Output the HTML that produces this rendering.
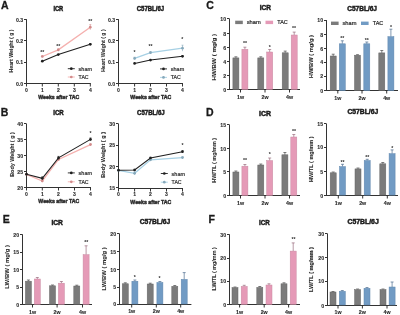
<!DOCTYPE html>
<html><head><meta charset="utf-8"><style>
html,body{margin:0;padding:0;background:#fff;width:400px;height:315px;overflow:hidden}
svg{display:block;filter:blur(0.4px)}
text{font-family:"Liberation Sans",sans-serif}
</style></head><body>
<svg width="400" height="315" viewBox="0 0 400 315">
<rect width="400" height="315" fill="#fff"/>
<text x="1.00" y="9.00" font-size="10.5" font-weight="bold" text-anchor="start" fill="#1a1a1a" stroke="#1a1a1a" stroke-width="0.3">A</text>
<line x1="26.50" y1="19.20" x2="26.50" y2="84.00" stroke="#333333" stroke-width="1"/>
<line x1="24.00" y1="19.50" x2="26.50" y2="19.50" stroke="#333333" stroke-width="1"/>
<text x="23.10" y="21.50" font-size="5.2" font-weight="bold" text-anchor="end" fill="#2b2b2b" stroke="#2b2b2b" stroke-width="0.1">0.3</text>
<line x1="24.00" y1="40.50" x2="26.50" y2="40.50" stroke="#333333" stroke-width="1"/>
<text x="23.10" y="42.90" font-size="5.2" font-weight="bold" text-anchor="end" fill="#2b2b2b" stroke="#2b2b2b" stroke-width="0.1">0.2</text>
<line x1="24.00" y1="62.50" x2="26.50" y2="62.50" stroke="#333333" stroke-width="1"/>
<text x="23.10" y="64.20" font-size="5.2" font-weight="bold" text-anchor="end" fill="#2b2b2b" stroke="#2b2b2b" stroke-width="0.1">0.1</text>
<line x1="24.00" y1="83.50" x2="26.50" y2="83.50" stroke="#333333" stroke-width="1"/>
<text x="23.10" y="85.60" font-size="5.2" font-weight="bold" text-anchor="end" fill="#2b2b2b" stroke="#2b2b2b" stroke-width="0.1">0.0</text>
<line x1="26.00" y1="83.50" x2="90.80" y2="83.50" stroke="#333333" stroke-width="1"/>
<line x1="26.50" y1="83.50" x2="26.50" y2="86.50" stroke="#333333" stroke-width="1"/>
<text x="26.50" y="91.80" font-size="5.1" font-weight="bold" text-anchor="middle" fill="#2b2b2b" stroke="#2b2b2b" stroke-width="0.1">0</text>
<line x1="42.30" y1="83.50" x2="42.30" y2="86.50" stroke="#333333" stroke-width="1"/>
<text x="42.30" y="91.80" font-size="5.1" font-weight="bold" text-anchor="middle" fill="#2b2b2b" stroke="#2b2b2b" stroke-width="0.1">1</text>
<line x1="58.30" y1="83.50" x2="58.30" y2="86.50" stroke="#333333" stroke-width="1"/>
<text x="58.30" y="91.80" font-size="5.1" font-weight="bold" text-anchor="middle" fill="#2b2b2b" stroke="#2b2b2b" stroke-width="0.1">2</text>
<line x1="74.30" y1="83.50" x2="74.30" y2="86.50" stroke="#333333" stroke-width="1"/>
<text x="74.30" y="91.80" font-size="5.1" font-weight="bold" text-anchor="middle" fill="#2b2b2b" stroke="#2b2b2b" stroke-width="0.1">3</text>
<line x1="90.30" y1="83.50" x2="90.30" y2="86.50" stroke="#333333" stroke-width="1"/>
<text x="90.30" y="91.80" font-size="5.1" font-weight="bold" text-anchor="middle" fill="#2b2b2b" stroke="#2b2b2b" stroke-width="0.1">4</text>
<polyline points="42.3,56.5 58.3,49.9 90.3,27.2" fill="none" stroke="#f5b0ae" stroke-width="1.3"/>
<line x1="42.30" y1="55.70" x2="42.30" y2="57.30" stroke="#d28b8b" stroke-width="0.6"/>
<line x1="41.30" y1="55.70" x2="43.30" y2="55.70" stroke="#d28b8b" stroke-width="0.6"/>
<circle cx="42.30" cy="56.50" r="1.35" fill="#d28b8b"/>
<line x1="58.30" y1="48.90" x2="58.30" y2="50.90" stroke="#d28b8b" stroke-width="0.6"/>
<line x1="57.30" y1="48.90" x2="59.30" y2="48.90" stroke="#d28b8b" stroke-width="0.6"/>
<circle cx="58.30" cy="49.90" r="1.35" fill="#d28b8b"/>
<line x1="90.30" y1="24.60" x2="90.30" y2="29.80" stroke="#d28b8b" stroke-width="0.6"/>
<line x1="89.30" y1="24.60" x2="91.30" y2="24.60" stroke="#d28b8b" stroke-width="0.6"/>
<circle cx="90.30" cy="27.20" r="1.35" fill="#d28b8b"/>
<polyline points="42.3,61.2 58.3,54.6 90.3,44.3" fill="none" stroke="#1f1f1f" stroke-width="1.05"/>
<circle cx="42.30" cy="61.20" r="1.35" fill="#1f1f1f"/>
<circle cx="58.30" cy="54.60" r="1.35" fill="#1f1f1f"/>
<line x1="90.30" y1="43.50" x2="90.30" y2="45.10" stroke="#1f1f1f" stroke-width="0.6"/>
<line x1="89.30" y1="43.50" x2="91.30" y2="43.50" stroke="#1f1f1f" stroke-width="0.6"/>
<circle cx="90.30" cy="44.30" r="1.35" fill="#1f1f1f"/>
<text x="42.30" y="54.10" font-size="5.2" font-weight="bold" text-anchor="middle" fill="#2b2b2b">**</text>
<text x="58.30" y="47.60" font-size="5.2" font-weight="bold" text-anchor="middle" fill="#2b2b2b">**</text>
<text x="90.30" y="22.80" font-size="5.2" font-weight="bold" text-anchor="middle" fill="#2b2b2b">**</text>
<line x1="67.80" y1="68.70" x2="74.80" y2="68.70" stroke="#1f1f1f" stroke-width="0.9"/>
<circle cx="71.30" cy="68.70" r="1.35" fill="#1f1f1f"/>
<line x1="67.80" y1="77.00" x2="74.80" y2="77.00" stroke="#f5b0ae" stroke-width="0.9"/>
<circle cx="71.30" cy="77.00" r="1.35" fill="#d28b8b"/>
<text x="78.60" y="70.70" font-size="5.6" font-weight="normal" text-anchor="start" fill="#2b2b2b" stroke="#2b2b2b" stroke-width="0.2" textLength="13.4" lengthAdjust="spacingAndGlyphs">sham</text>
<text x="78.60" y="79.00" font-size="5.6" font-weight="normal" text-anchor="start" fill="#2b2b2b" stroke="#2b2b2b" stroke-width="0.2" textLength="10.0" lengthAdjust="spacingAndGlyphs">TAC</text>
<text x="58.75" y="99.20" font-size="5.3" font-weight="bold" text-anchor="middle" fill="#2b2b2b" stroke="#2b2b2b" stroke-width="0.42" textLength="41" lengthAdjust="spacingAndGlyphs">Weeks after TAC</text>
<text x="13.10" y="51.00" font-size="5.2" font-weight="bold" text-anchor="middle" fill="#2b2b2b" stroke="#2b2b2b" stroke-width="0.08" textLength="43" lengthAdjust="spacingAndGlyphs" transform="rotate(-90 13.10 51.00)">Heart Weight ( g )</text>
<text x="58.35" y="11.00" font-size="6.5" font-weight="bold" text-anchor="middle" fill="#1a1a1a" stroke="#1a1a1a" stroke-width="0.45" textLength="9.8" lengthAdjust="spacingAndGlyphs">ICR</text>
<line x1="118.50" y1="19.20" x2="118.50" y2="84.00" stroke="#333333" stroke-width="1"/>
<line x1="116.00" y1="19.50" x2="118.50" y2="19.50" stroke="#333333" stroke-width="1"/>
<text x="115.10" y="21.50" font-size="5.2" font-weight="bold" text-anchor="end" fill="#2b2b2b" stroke="#2b2b2b" stroke-width="0.1">0.3</text>
<line x1="116.00" y1="40.50" x2="118.50" y2="40.50" stroke="#333333" stroke-width="1"/>
<text x="115.10" y="42.90" font-size="5.2" font-weight="bold" text-anchor="end" fill="#2b2b2b" stroke="#2b2b2b" stroke-width="0.1">0.2</text>
<line x1="116.00" y1="62.50" x2="118.50" y2="62.50" stroke="#333333" stroke-width="1"/>
<text x="115.10" y="64.20" font-size="5.2" font-weight="bold" text-anchor="end" fill="#2b2b2b" stroke="#2b2b2b" stroke-width="0.1">0.1</text>
<line x1="116.00" y1="83.50" x2="118.50" y2="83.50" stroke="#333333" stroke-width="1"/>
<text x="115.10" y="85.60" font-size="5.2" font-weight="bold" text-anchor="end" fill="#2b2b2b" stroke="#2b2b2b" stroke-width="0.1">0.0</text>
<line x1="118.00" y1="83.50" x2="183.00" y2="83.50" stroke="#333333" stroke-width="1"/>
<line x1="118.50" y1="83.50" x2="118.50" y2="86.50" stroke="#333333" stroke-width="1"/>
<text x="118.50" y="91.80" font-size="5.1" font-weight="bold" text-anchor="middle" fill="#2b2b2b" stroke="#2b2b2b" stroke-width="0.1">0</text>
<line x1="134.60" y1="83.50" x2="134.60" y2="86.50" stroke="#333333" stroke-width="1"/>
<text x="134.60" y="91.80" font-size="5.1" font-weight="bold" text-anchor="middle" fill="#2b2b2b" stroke="#2b2b2b" stroke-width="0.1">1</text>
<line x1="150.50" y1="83.50" x2="150.50" y2="86.50" stroke="#333333" stroke-width="1"/>
<text x="150.50" y="91.80" font-size="5.1" font-weight="bold" text-anchor="middle" fill="#2b2b2b" stroke="#2b2b2b" stroke-width="0.1">2</text>
<line x1="166.50" y1="83.50" x2="166.50" y2="86.50" stroke="#333333" stroke-width="1"/>
<text x="166.50" y="91.80" font-size="5.1" font-weight="bold" text-anchor="middle" fill="#2b2b2b" stroke="#2b2b2b" stroke-width="0.1">3</text>
<line x1="182.50" y1="83.50" x2="182.50" y2="86.50" stroke="#333333" stroke-width="1"/>
<text x="182.50" y="91.80" font-size="5.1" font-weight="bold" text-anchor="middle" fill="#2b2b2b" stroke="#2b2b2b" stroke-width="0.1">4</text>
<polyline points="134.6,58.4 150.5,52.7 182.5,48.2" fill="none" stroke="#a6d0e4" stroke-width="1.3"/>
<line x1="134.60" y1="57.20" x2="134.60" y2="59.60" stroke="#86a8ba" stroke-width="0.6"/>
<line x1="133.60" y1="57.20" x2="135.60" y2="57.20" stroke="#86a8ba" stroke-width="0.6"/>
<circle cx="134.60" cy="58.40" r="1.35" fill="#86a8ba"/>
<line x1="150.50" y1="51.50" x2="150.50" y2="53.90" stroke="#86a8ba" stroke-width="0.6"/>
<line x1="149.50" y1="51.50" x2="151.50" y2="51.50" stroke="#86a8ba" stroke-width="0.6"/>
<circle cx="150.50" cy="52.70" r="1.35" fill="#86a8ba"/>
<line x1="182.50" y1="45.20" x2="182.50" y2="51.20" stroke="#86a8ba" stroke-width="0.6"/>
<line x1="181.50" y1="45.20" x2="183.50" y2="45.20" stroke="#86a8ba" stroke-width="0.6"/>
<circle cx="182.50" cy="48.20" r="1.35" fill="#86a8ba"/>
<polyline points="134.6,63.4 150.5,60.1 182.5,56.3" fill="none" stroke="#1f1f1f" stroke-width="1.05"/>
<circle cx="134.60" cy="63.40" r="1.35" fill="#1f1f1f"/>
<circle cx="150.50" cy="60.10" r="1.35" fill="#1f1f1f"/>
<line x1="182.50" y1="55.50" x2="182.50" y2="57.10" stroke="#1f1f1f" stroke-width="0.6"/>
<line x1="181.50" y1="55.50" x2="183.50" y2="55.50" stroke="#1f1f1f" stroke-width="0.6"/>
<circle cx="182.50" cy="56.30" r="1.35" fill="#1f1f1f"/>
<text x="134.60" y="54.30" font-size="5.2" font-weight="bold" text-anchor="middle" fill="#2b2b2b">*</text>
<text x="150.50" y="48.40" font-size="5.2" font-weight="bold" text-anchor="middle" fill="#2b2b2b">**</text>
<text x="182.30" y="41.30" font-size="5.2" font-weight="bold" text-anchor="middle" fill="#2b2b2b">*</text>
<line x1="160.00" y1="68.90" x2="167.00" y2="68.90" stroke="#1f1f1f" stroke-width="0.9"/>
<circle cx="163.50" cy="68.90" r="1.35" fill="#1f1f1f"/>
<line x1="160.00" y1="77.40" x2="167.00" y2="77.40" stroke="#a6d0e4" stroke-width="0.9"/>
<circle cx="163.50" cy="77.40" r="1.35" fill="#86a8ba"/>
<text x="170.80" y="70.90" font-size="5.6" font-weight="normal" text-anchor="start" fill="#2b2b2b" stroke="#2b2b2b" stroke-width="0.2" textLength="13.4" lengthAdjust="spacingAndGlyphs">sham</text>
<text x="170.80" y="79.40" font-size="5.6" font-weight="normal" text-anchor="start" fill="#2b2b2b" stroke="#2b2b2b" stroke-width="0.2" textLength="10.0" lengthAdjust="spacingAndGlyphs">TAC</text>
<text x="150.85" y="99.20" font-size="5.3" font-weight="bold" text-anchor="middle" fill="#2b2b2b" stroke="#2b2b2b" stroke-width="0.42" textLength="41" lengthAdjust="spacingAndGlyphs">Weeks after TAC</text>
<text x="105.40" y="50.60" font-size="5.2" font-weight="bold" text-anchor="middle" fill="#2b2b2b" stroke="#2b2b2b" stroke-width="0.08" textLength="42.5" lengthAdjust="spacingAndGlyphs" transform="rotate(-90 105.40 50.60)">Heart Weight ( g )</text>
<text x="150.40" y="11.00" font-size="6.5" font-weight="bold" text-anchor="middle" fill="#1a1a1a" stroke="#1a1a1a" stroke-width="0.45" textLength="27.3" lengthAdjust="spacingAndGlyphs">C57BL/6J</text>
<text x="0.80" y="115.50" font-size="10.5" font-weight="bold" text-anchor="start" fill="#1a1a1a" stroke="#1a1a1a" stroke-width="0.3">B</text>
<line x1="26.50" y1="123.80" x2="26.50" y2="188.00" stroke="#333333" stroke-width="1"/>
<line x1="24.00" y1="123.50" x2="26.50" y2="123.50" stroke="#333333" stroke-width="1"/>
<text x="23.10" y="126.00" font-size="5.2" font-weight="bold" text-anchor="end" fill="#2b2b2b" stroke="#2b2b2b" stroke-width="0.1">40</text>
<line x1="24.00" y1="139.50" x2="26.50" y2="139.50" stroke="#333333" stroke-width="1"/>
<text x="23.10" y="141.90" font-size="5.2" font-weight="bold" text-anchor="end" fill="#2b2b2b" stroke="#2b2b2b" stroke-width="0.1">35</text>
<line x1="24.00" y1="155.50" x2="26.50" y2="155.50" stroke="#333333" stroke-width="1"/>
<text x="23.10" y="158.00" font-size="5.2" font-weight="bold" text-anchor="end" fill="#2b2b2b" stroke="#2b2b2b" stroke-width="0.1">30</text>
<line x1="24.00" y1="171.50" x2="26.50" y2="171.50" stroke="#333333" stroke-width="1"/>
<text x="23.10" y="173.90" font-size="5.2" font-weight="bold" text-anchor="end" fill="#2b2b2b" stroke="#2b2b2b" stroke-width="0.1">25</text>
<line x1="24.00" y1="187.50" x2="26.50" y2="187.50" stroke="#333333" stroke-width="1"/>
<text x="23.10" y="189.80" font-size="5.2" font-weight="bold" text-anchor="end" fill="#2b2b2b" stroke="#2b2b2b" stroke-width="0.1">20</text>
<line x1="26.00" y1="187.50" x2="91.00" y2="187.50" stroke="#333333" stroke-width="1"/>
<line x1="26.50" y1="187.50" x2="26.50" y2="190.50" stroke="#333333" stroke-width="1"/>
<text x="26.50" y="196.00" font-size="5.1" font-weight="bold" text-anchor="middle" fill="#2b2b2b" stroke="#2b2b2b" stroke-width="0.1">0</text>
<line x1="42.30" y1="187.50" x2="42.30" y2="190.50" stroke="#333333" stroke-width="1"/>
<text x="42.30" y="196.00" font-size="5.1" font-weight="bold" text-anchor="middle" fill="#2b2b2b" stroke="#2b2b2b" stroke-width="0.1">1</text>
<line x1="58.50" y1="187.50" x2="58.50" y2="190.50" stroke="#333333" stroke-width="1"/>
<text x="58.50" y="196.00" font-size="5.1" font-weight="bold" text-anchor="middle" fill="#2b2b2b" stroke="#2b2b2b" stroke-width="0.1">2</text>
<line x1="74.50" y1="187.50" x2="74.50" y2="190.50" stroke="#333333" stroke-width="1"/>
<text x="74.50" y="196.00" font-size="5.1" font-weight="bold" text-anchor="middle" fill="#2b2b2b" stroke="#2b2b2b" stroke-width="0.1">3</text>
<line x1="90.50" y1="187.50" x2="90.50" y2="190.50" stroke="#333333" stroke-width="1"/>
<text x="90.50" y="196.00" font-size="5.1" font-weight="bold" text-anchor="middle" fill="#2b2b2b" stroke="#2b2b2b" stroke-width="0.1">4</text>
<polyline points="26.5,174.3 42.3,181 58.5,159.4 90.5,144.6" fill="none" stroke="#f5b0ae" stroke-width="1.3"/>
<line x1="26.50" y1="173.70" x2="26.50" y2="174.90" stroke="#d28b8b" stroke-width="0.6"/>
<line x1="25.50" y1="173.70" x2="27.50" y2="173.70" stroke="#d28b8b" stroke-width="0.6"/>
<circle cx="26.50" cy="174.30" r="1.35" fill="#d28b8b"/>
<line x1="42.30" y1="179.80" x2="42.30" y2="182.20" stroke="#d28b8b" stroke-width="0.6"/>
<line x1="41.30" y1="179.80" x2="43.30" y2="179.80" stroke="#d28b8b" stroke-width="0.6"/>
<circle cx="42.30" cy="181.00" r="1.35" fill="#d28b8b"/>
<line x1="58.50" y1="158.40" x2="58.50" y2="160.40" stroke="#d28b8b" stroke-width="0.6"/>
<line x1="57.50" y1="158.40" x2="59.50" y2="158.40" stroke="#d28b8b" stroke-width="0.6"/>
<circle cx="58.50" cy="159.40" r="1.35" fill="#d28b8b"/>
<line x1="90.50" y1="143.60" x2="90.50" y2="145.60" stroke="#d28b8b" stroke-width="0.6"/>
<line x1="89.50" y1="143.60" x2="91.50" y2="143.60" stroke="#d28b8b" stroke-width="0.6"/>
<circle cx="90.50" cy="144.60" r="1.35" fill="#d28b8b"/>
<polyline points="26.5,174.3 42.3,178.3 58.5,157.9 90.5,139.4" fill="none" stroke="#1f1f1f" stroke-width="1.05"/>
<line x1="26.50" y1="173.50" x2="26.50" y2="175.10" stroke="#1f1f1f" stroke-width="0.6"/>
<line x1="25.50" y1="173.50" x2="27.50" y2="173.50" stroke="#1f1f1f" stroke-width="0.6"/>
<circle cx="26.50" cy="174.30" r="1.35" fill="#1f1f1f"/>
<line x1="42.30" y1="176.70" x2="42.30" y2="179.90" stroke="#1f1f1f" stroke-width="0.6"/>
<line x1="41.30" y1="176.70" x2="43.30" y2="176.70" stroke="#1f1f1f" stroke-width="0.6"/>
<circle cx="42.30" cy="178.30" r="1.35" fill="#1f1f1f"/>
<line x1="58.50" y1="156.40" x2="58.50" y2="159.40" stroke="#1f1f1f" stroke-width="0.6"/>
<line x1="57.50" y1="156.40" x2="59.50" y2="156.40" stroke="#1f1f1f" stroke-width="0.6"/>
<circle cx="58.50" cy="157.90" r="1.35" fill="#1f1f1f"/>
<line x1="90.50" y1="137.90" x2="90.50" y2="140.90" stroke="#1f1f1f" stroke-width="0.6"/>
<line x1="89.50" y1="137.90" x2="91.50" y2="137.90" stroke="#1f1f1f" stroke-width="0.6"/>
<circle cx="90.50" cy="139.40" r="1.35" fill="#1f1f1f"/>
<text x="90.50" y="134.80" font-size="5.2" font-weight="bold" text-anchor="middle" fill="#2b2b2b">*</text>
<line x1="67.80" y1="172.90" x2="74.80" y2="172.90" stroke="#1f1f1f" stroke-width="0.9"/>
<circle cx="71.30" cy="172.90" r="1.35" fill="#1f1f1f"/>
<line x1="67.80" y1="181.80" x2="74.80" y2="181.80" stroke="#f5b0ae" stroke-width="0.9"/>
<circle cx="71.30" cy="181.80" r="1.35" fill="#d28b8b"/>
<text x="78.60" y="174.90" font-size="5.6" font-weight="normal" text-anchor="start" fill="#2b2b2b" stroke="#2b2b2b" stroke-width="0.2" textLength="13.4" lengthAdjust="spacingAndGlyphs">sham</text>
<text x="78.60" y="183.80" font-size="5.6" font-weight="normal" text-anchor="start" fill="#2b2b2b" stroke="#2b2b2b" stroke-width="0.2" textLength="10.0" lengthAdjust="spacingAndGlyphs">TAC</text>
<text x="58.85" y="203.40" font-size="5.3" font-weight="bold" text-anchor="middle" fill="#2b2b2b" stroke="#2b2b2b" stroke-width="0.42" textLength="41" lengthAdjust="spacingAndGlyphs">Weeks after TAC</text>
<text x="13.60" y="154.50" font-size="5.2" font-weight="bold" text-anchor="middle" fill="#2b2b2b" stroke="#2b2b2b" stroke-width="0.08" textLength="44.7" lengthAdjust="spacingAndGlyphs" transform="rotate(-90 13.60 154.50)">Body Weight ( g )</text>
<text x="58.50" y="115.20" font-size="6.5" font-weight="bold" text-anchor="middle" fill="#1a1a1a" stroke="#1a1a1a" stroke-width="0.45" textLength="10.5" lengthAdjust="spacingAndGlyphs">ICR</text>
<line x1="118.50" y1="123.80" x2="118.50" y2="189.00" stroke="#333333" stroke-width="1"/>
<line x1="116.00" y1="123.50" x2="118.50" y2="123.50" stroke="#333333" stroke-width="1"/>
<text x="115.10" y="126.00" font-size="5.2" font-weight="bold" text-anchor="end" fill="#2b2b2b" stroke="#2b2b2b" stroke-width="0.1">30</text>
<line x1="116.00" y1="145.50" x2="118.50" y2="145.50" stroke="#333333" stroke-width="1"/>
<text x="115.10" y="147.20" font-size="5.2" font-weight="bold" text-anchor="end" fill="#2b2b2b" stroke="#2b2b2b" stroke-width="0.1">25</text>
<line x1="116.00" y1="166.50" x2="118.50" y2="166.50" stroke="#333333" stroke-width="1"/>
<text x="115.10" y="168.50" font-size="5.2" font-weight="bold" text-anchor="end" fill="#2b2b2b" stroke="#2b2b2b" stroke-width="0.1">20</text>
<line x1="116.00" y1="187.50" x2="118.50" y2="187.50" stroke="#333333" stroke-width="1"/>
<text x="115.10" y="189.80" font-size="5.2" font-weight="bold" text-anchor="end" fill="#2b2b2b" stroke="#2b2b2b" stroke-width="0.1">15</text>
<line x1="118.00" y1="188.50" x2="183.00" y2="188.50" stroke="#333333" stroke-width="1"/>
<line x1="118.50" y1="188.50" x2="118.50" y2="191.50" stroke="#333333" stroke-width="1"/>
<text x="118.50" y="196.40" font-size="5.1" font-weight="bold" text-anchor="middle" fill="#2b2b2b" stroke="#2b2b2b" stroke-width="0.1">0</text>
<line x1="134.60" y1="188.50" x2="134.60" y2="191.50" stroke="#333333" stroke-width="1"/>
<text x="134.60" y="196.40" font-size="5.1" font-weight="bold" text-anchor="middle" fill="#2b2b2b" stroke="#2b2b2b" stroke-width="0.1">1</text>
<line x1="150.50" y1="188.50" x2="150.50" y2="191.50" stroke="#333333" stroke-width="1"/>
<text x="150.50" y="196.40" font-size="5.1" font-weight="bold" text-anchor="middle" fill="#2b2b2b" stroke="#2b2b2b" stroke-width="0.1">2</text>
<line x1="166.50" y1="188.50" x2="166.50" y2="191.50" stroke="#333333" stroke-width="1"/>
<text x="166.50" y="196.40" font-size="5.1" font-weight="bold" text-anchor="middle" fill="#2b2b2b" stroke="#2b2b2b" stroke-width="0.1">3</text>
<line x1="182.50" y1="188.50" x2="182.50" y2="191.50" stroke="#333333" stroke-width="1"/>
<text x="182.50" y="196.40" font-size="5.1" font-weight="bold" text-anchor="middle" fill="#2b2b2b" stroke="#2b2b2b" stroke-width="0.1">4</text>
<polyline points="118.5,170.3 134.6,173.3 150.5,159.8 182.5,157.6" fill="none" stroke="#a6d0e4" stroke-width="1.3"/>
<line x1="118.50" y1="169.70" x2="118.50" y2="170.90" stroke="#86a8ba" stroke-width="0.6"/>
<line x1="117.50" y1="169.70" x2="119.50" y2="169.70" stroke="#86a8ba" stroke-width="0.6"/>
<circle cx="118.50" cy="170.30" r="1.35" fill="#86a8ba"/>
<line x1="134.60" y1="171.80" x2="134.60" y2="174.80" stroke="#86a8ba" stroke-width="0.6"/>
<line x1="133.60" y1="171.80" x2="135.60" y2="171.80" stroke="#86a8ba" stroke-width="0.6"/>
<circle cx="134.60" cy="173.30" r="1.35" fill="#86a8ba"/>
<line x1="150.50" y1="158.80" x2="150.50" y2="160.80" stroke="#86a8ba" stroke-width="0.6"/>
<line x1="149.50" y1="158.80" x2="151.50" y2="158.80" stroke="#86a8ba" stroke-width="0.6"/>
<circle cx="150.50" cy="159.80" r="1.35" fill="#86a8ba"/>
<line x1="182.50" y1="156.60" x2="182.50" y2="158.60" stroke="#86a8ba" stroke-width="0.6"/>
<line x1="181.50" y1="156.60" x2="183.50" y2="156.60" stroke="#86a8ba" stroke-width="0.6"/>
<circle cx="182.50" cy="157.60" r="1.35" fill="#86a8ba"/>
<polyline points="118.5,170.3 134.6,170 150.5,158 182.5,151.7" fill="none" stroke="#1f1f1f" stroke-width="1.05"/>
<line x1="118.50" y1="169.70" x2="118.50" y2="170.90" stroke="#1f1f1f" stroke-width="0.6"/>
<line x1="117.50" y1="169.70" x2="119.50" y2="169.70" stroke="#1f1f1f" stroke-width="0.6"/>
<circle cx="118.50" cy="170.30" r="1.35" fill="#1f1f1f"/>
<line x1="134.60" y1="169.20" x2="134.60" y2="170.80" stroke="#1f1f1f" stroke-width="0.6"/>
<line x1="133.60" y1="169.20" x2="135.60" y2="169.20" stroke="#1f1f1f" stroke-width="0.6"/>
<circle cx="134.60" cy="170.00" r="1.35" fill="#1f1f1f"/>
<line x1="150.50" y1="157.20" x2="150.50" y2="158.80" stroke="#1f1f1f" stroke-width="0.6"/>
<line x1="149.50" y1="157.20" x2="151.50" y2="157.20" stroke="#1f1f1f" stroke-width="0.6"/>
<circle cx="150.50" cy="158.00" r="1.35" fill="#1f1f1f"/>
<line x1="182.50" y1="150.70" x2="182.50" y2="152.70" stroke="#1f1f1f" stroke-width="0.6"/>
<line x1="181.50" y1="150.70" x2="183.50" y2="150.70" stroke="#1f1f1f" stroke-width="0.6"/>
<circle cx="182.50" cy="151.70" r="1.35" fill="#1f1f1f"/>
<text x="182.50" y="147.10" font-size="5.2" font-weight="bold" text-anchor="middle" fill="#2b2b2b">*</text>
<line x1="160.80" y1="173.50" x2="167.80" y2="173.50" stroke="#1f1f1f" stroke-width="0.9"/>
<circle cx="164.30" cy="173.50" r="1.35" fill="#1f1f1f"/>
<line x1="160.80" y1="182.20" x2="167.80" y2="182.20" stroke="#a6d0e4" stroke-width="0.9"/>
<circle cx="164.30" cy="182.20" r="1.35" fill="#86a8ba"/>
<text x="171.60" y="175.50" font-size="5.6" font-weight="normal" text-anchor="start" fill="#2b2b2b" stroke="#2b2b2b" stroke-width="0.2" textLength="13.4" lengthAdjust="spacingAndGlyphs">sham</text>
<text x="171.60" y="184.20" font-size="5.6" font-weight="normal" text-anchor="start" fill="#2b2b2b" stroke="#2b2b2b" stroke-width="0.2" textLength="10.0" lengthAdjust="spacingAndGlyphs">TAC</text>
<text x="150.85" y="203.80" font-size="5.3" font-weight="bold" text-anchor="middle" fill="#2b2b2b" stroke="#2b2b2b" stroke-width="0.42" textLength="41" lengthAdjust="spacingAndGlyphs">Weeks after TAC</text>
<text x="105.20" y="154.80" font-size="5.2" font-weight="bold" text-anchor="middle" fill="#2b2b2b" stroke="#2b2b2b" stroke-width="0.08" textLength="45.7" lengthAdjust="spacingAndGlyphs" transform="rotate(-90 105.20 154.80)">Body Weight ( g )</text>
<text x="150.90" y="115.10" font-size="6.5" font-weight="bold" text-anchor="middle" fill="#1a1a1a" stroke="#1a1a1a" stroke-width="0.45" textLength="27.7" lengthAdjust="spacingAndGlyphs">C57BL/6J</text>
<text x="206.20" y="9.00" font-size="10.5" font-weight="bold" text-anchor="start" fill="#1a1a1a" stroke="#1a1a1a" stroke-width="0.3">C</text>
<line x1="229.50" y1="18.80" x2="229.50" y2="90.00" stroke="#333333" stroke-width="1"/>
<line x1="227.00" y1="18.50" x2="229.50" y2="18.50" stroke="#333333" stroke-width="1"/>
<text x="226.10" y="21.00" font-size="5.2" font-weight="bold" text-anchor="end" fill="#2b2b2b" stroke="#2b2b2b" stroke-width="0.1">10</text>
<line x1="227.00" y1="33.50" x2="229.50" y2="33.50" stroke="#333333" stroke-width="1"/>
<text x="226.10" y="35.60" font-size="5.2" font-weight="bold" text-anchor="end" fill="#2b2b2b" stroke="#2b2b2b" stroke-width="0.1">8</text>
<line x1="227.00" y1="47.50" x2="229.50" y2="47.50" stroke="#333333" stroke-width="1"/>
<text x="226.10" y="49.60" font-size="5.2" font-weight="bold" text-anchor="end" fill="#2b2b2b" stroke="#2b2b2b" stroke-width="0.1">6</text>
<line x1="227.00" y1="61.50" x2="229.50" y2="61.50" stroke="#333333" stroke-width="1"/>
<text x="226.10" y="63.60" font-size="5.2" font-weight="bold" text-anchor="end" fill="#2b2b2b" stroke="#2b2b2b" stroke-width="0.1">4</text>
<line x1="227.00" y1="75.50" x2="229.50" y2="75.50" stroke="#333333" stroke-width="1"/>
<text x="226.10" y="77.90" font-size="5.2" font-weight="bold" text-anchor="end" fill="#2b2b2b" stroke="#2b2b2b" stroke-width="0.1">2</text>
<line x1="227.00" y1="89.50" x2="229.50" y2="89.50" stroke="#333333" stroke-width="1"/>
<text x="226.10" y="91.60" font-size="5.2" font-weight="bold" text-anchor="end" fill="#2b2b2b" stroke="#2b2b2b" stroke-width="0.1">0</text>
<line x1="229.00" y1="89.50" x2="300.00" y2="89.50" stroke="#333333" stroke-width="1"/>
<line x1="240.50" y1="89.50" x2="240.50" y2="92.50" stroke="#333333" stroke-width="1"/>
<text x="240.50" y="98.80" font-size="5.3" font-weight="bold" text-anchor="middle" fill="#2b2b2b" stroke="#2b2b2b" stroke-width="0.1">1w</text>
<line x1="265.00" y1="89.50" x2="265.00" y2="92.50" stroke="#333333" stroke-width="1"/>
<text x="265.00" y="98.80" font-size="5.3" font-weight="bold" text-anchor="middle" fill="#2b2b2b" stroke="#2b2b2b" stroke-width="0.1">2w</text>
<line x1="289.50" y1="89.50" x2="289.50" y2="92.50" stroke="#333333" stroke-width="1"/>
<text x="289.50" y="98.80" font-size="5.3" font-weight="bold" text-anchor="middle" fill="#2b2b2b" stroke="#2b2b2b" stroke-width="0.1">4w</text>
<line x1="235.90" y1="56.80" x2="235.90" y2="57.90" stroke="#4a4a4a" stroke-width="0.7"/>
<line x1="234.40" y1="56.80" x2="237.40" y2="56.80" stroke="#4a4a4a" stroke-width="0.7"/>
<rect x="232.90" y="57.90" width="6.00" height="31.50" fill="#7b7b7b" stroke="#666" stroke-width="0.5"/>
<line x1="244.90" y1="47.20" x2="244.90" y2="49.30" stroke="#9a6a7c" stroke-width="0.7"/>
<line x1="243.40" y1="47.20" x2="246.40" y2="47.20" stroke="#9a6a7c" stroke-width="0.7"/>
<rect x="241.90" y="49.30" width="6.00" height="40.10" fill="#e59ab7" stroke="#c98aa2" stroke-width="0.5"/>
<line x1="260.80" y1="56.80" x2="260.80" y2="57.90" stroke="#4a4a4a" stroke-width="0.7"/>
<line x1="259.30" y1="56.80" x2="262.30" y2="56.80" stroke="#4a4a4a" stroke-width="0.7"/>
<rect x="257.80" y="57.90" width="6.00" height="31.50" fill="#7b7b7b" stroke="#666" stroke-width="0.5"/>
<line x1="269.70" y1="49.50" x2="269.70" y2="52.00" stroke="#9a6a7c" stroke-width="0.7"/>
<line x1="268.20" y1="49.50" x2="271.20" y2="49.50" stroke="#9a6a7c" stroke-width="0.7"/>
<rect x="266.70" y="52.00" width="6.00" height="37.40" fill="#e59ab7" stroke="#c98aa2" stroke-width="0.5"/>
<line x1="285.20" y1="51.10" x2="285.20" y2="52.80" stroke="#4a4a4a" stroke-width="0.7"/>
<line x1="283.70" y1="51.10" x2="286.70" y2="51.10" stroke="#4a4a4a" stroke-width="0.7"/>
<rect x="282.20" y="52.80" width="6.00" height="36.60" fill="#7b7b7b" stroke="#666" stroke-width="0.5"/>
<line x1="294.20" y1="32.10" x2="294.20" y2="35.00" stroke="#9a6a7c" stroke-width="0.7"/>
<line x1="292.70" y1="32.10" x2="295.70" y2="32.10" stroke="#9a6a7c" stroke-width="0.7"/>
<rect x="291.20" y="35.00" width="6.00" height="54.40" fill="#e59ab7" stroke="#c98aa2" stroke-width="0.5"/>
<text x="245.00" y="45.40" font-size="5.2" font-weight="bold" text-anchor="middle" fill="#2b2b2b">**</text>
<text x="269.80" y="48.80" font-size="5.2" font-weight="bold" text-anchor="middle" fill="#2b2b2b">*</text>
<text x="294.00" y="29.70" font-size="5.2" font-weight="bold" text-anchor="middle" fill="#2b2b2b">**</text>
<rect x="235.20" y="20.70" width="7.60" height="3.40" fill="#7b7b7b"/>
<text x="246.70" y="23.90" font-size="6.2" font-weight="normal" text-anchor="start" fill="#222" stroke="#222" stroke-width="0.2" textLength="14" lengthAdjust="spacingAndGlyphs">sham</text>
<rect x="265.50" y="20.70" width="7.60" height="3.40" fill="#e59ab7"/>
<text x="277.30" y="23.90" font-size="6.2" font-weight="normal" text-anchor="start" fill="#222" stroke="#222" stroke-width="0.2" textLength="10.5" lengthAdjust="spacingAndGlyphs">TAC</text>
<text x="216.00" y="57.20" font-size="5.2" font-weight="bold" text-anchor="middle" fill="#2b2b2b" stroke="#2b2b2b" stroke-width="0.08" textLength="46.7" lengthAdjust="spacingAndGlyphs" transform="rotate(-90 216.00 57.20)">HW/BW ( mg/g )</text>
<text x="265.35" y="9.60" font-size="6.5" font-weight="bold" text-anchor="middle" fill="#1a1a1a" stroke="#1a1a1a" stroke-width="0.45" textLength="11.2" lengthAdjust="spacingAndGlyphs">ICR</text>
<line x1="326.50" y1="20.10" x2="326.50" y2="91.00" stroke="#333333" stroke-width="1"/>
<line x1="324.00" y1="20.50" x2="326.50" y2="20.50" stroke="#333333" stroke-width="1"/>
<text x="323.10" y="22.30" font-size="5.2" font-weight="bold" text-anchor="end" fill="#2b2b2b" stroke="#2b2b2b" stroke-width="0.1">10</text>
<line x1="324.00" y1="34.50" x2="326.50" y2="34.50" stroke="#333333" stroke-width="1"/>
<text x="323.10" y="36.50" font-size="5.2" font-weight="bold" text-anchor="end" fill="#2b2b2b" stroke="#2b2b2b" stroke-width="0.1">8</text>
<line x1="324.00" y1="48.50" x2="326.50" y2="48.50" stroke="#333333" stroke-width="1"/>
<text x="323.10" y="50.50" font-size="5.2" font-weight="bold" text-anchor="end" fill="#2b2b2b" stroke="#2b2b2b" stroke-width="0.1">6</text>
<line x1="324.00" y1="62.50" x2="326.50" y2="62.50" stroke="#333333" stroke-width="1"/>
<text x="323.10" y="64.40" font-size="5.2" font-weight="bold" text-anchor="end" fill="#2b2b2b" stroke="#2b2b2b" stroke-width="0.1">4</text>
<line x1="324.00" y1="76.50" x2="326.50" y2="76.50" stroke="#333333" stroke-width="1"/>
<text x="323.10" y="78.30" font-size="5.2" font-weight="bold" text-anchor="end" fill="#2b2b2b" stroke="#2b2b2b" stroke-width="0.1">2</text>
<line x1="324.00" y1="90.50" x2="326.50" y2="90.50" stroke="#333333" stroke-width="1"/>
<text x="323.10" y="92.70" font-size="5.2" font-weight="bold" text-anchor="end" fill="#2b2b2b" stroke="#2b2b2b" stroke-width="0.1">0</text>
<line x1="326.00" y1="90.50" x2="398.00" y2="90.50" stroke="#333333" stroke-width="1"/>
<line x1="337.80" y1="90.50" x2="337.80" y2="93.50" stroke="#333333" stroke-width="1"/>
<text x="337.80" y="99.90" font-size="5.3" font-weight="bold" text-anchor="middle" fill="#2b2b2b" stroke="#2b2b2b" stroke-width="0.1">1w</text>
<line x1="362.00" y1="90.50" x2="362.00" y2="93.50" stroke="#333333" stroke-width="1"/>
<text x="362.00" y="99.90" font-size="5.3" font-weight="bold" text-anchor="middle" fill="#2b2b2b" stroke="#2b2b2b" stroke-width="0.1">2w</text>
<line x1="386.70" y1="90.50" x2="386.70" y2="93.50" stroke="#333333" stroke-width="1"/>
<text x="386.70" y="99.90" font-size="5.3" font-weight="bold" text-anchor="middle" fill="#2b2b2b" stroke="#2b2b2b" stroke-width="0.1">4w</text>
<line x1="333.20" y1="54.20" x2="333.20" y2="56.00" stroke="#4a4a4a" stroke-width="0.7"/>
<line x1="331.70" y1="54.20" x2="334.70" y2="54.20" stroke="#4a4a4a" stroke-width="0.7"/>
<rect x="330.20" y="56.00" width="6.00" height="34.50" fill="#7b7b7b" stroke="#666" stroke-width="0.5"/>
<line x1="342.30" y1="40.80" x2="342.30" y2="43.80" stroke="#4f6f90" stroke-width="0.7"/>
<line x1="340.80" y1="40.80" x2="343.80" y2="40.80" stroke="#4f6f90" stroke-width="0.7"/>
<rect x="339.30" y="43.80" width="6.00" height="46.70" fill="#719bc4" stroke="#5f86ad" stroke-width="0.5"/>
<line x1="357.50" y1="54.70" x2="357.50" y2="55.20" stroke="#4a4a4a" stroke-width="0.7"/>
<line x1="356.00" y1="54.70" x2="359.00" y2="54.70" stroke="#4a4a4a" stroke-width="0.7"/>
<rect x="354.50" y="55.20" width="6.00" height="35.30" fill="#7b7b7b" stroke="#666" stroke-width="0.5"/>
<line x1="366.80" y1="42.00" x2="366.80" y2="43.80" stroke="#4f6f90" stroke-width="0.7"/>
<line x1="365.30" y1="42.00" x2="368.30" y2="42.00" stroke="#4f6f90" stroke-width="0.7"/>
<rect x="363.80" y="43.80" width="6.00" height="46.70" fill="#719bc4" stroke="#5f86ad" stroke-width="0.5"/>
<line x1="381.80" y1="50.50" x2="381.80" y2="52.90" stroke="#4a4a4a" stroke-width="0.7"/>
<line x1="380.30" y1="50.50" x2="383.30" y2="50.50" stroke="#4a4a4a" stroke-width="0.7"/>
<rect x="378.80" y="52.90" width="6.00" height="37.60" fill="#7b7b7b" stroke="#666" stroke-width="0.5"/>
<line x1="390.90" y1="29.20" x2="390.90" y2="36.70" stroke="#4f6f90" stroke-width="0.7"/>
<line x1="389.40" y1="29.20" x2="392.40" y2="29.20" stroke="#4f6f90" stroke-width="0.7"/>
<rect x="387.90" y="36.70" width="6.00" height="53.80" fill="#719bc4" stroke="#5f86ad" stroke-width="0.5"/>
<text x="342.20" y="39.90" font-size="5.2" font-weight="bold" text-anchor="middle" fill="#2b2b2b">**</text>
<text x="366.70" y="41.70" font-size="5.2" font-weight="bold" text-anchor="middle" fill="#2b2b2b">**</text>
<text x="391.00" y="29.30" font-size="5.2" font-weight="bold" text-anchor="middle" fill="#2b2b2b">*</text>
<rect x="331.00" y="21.60" width="7.60" height="3.40" fill="#7b7b7b"/>
<text x="342.50" y="24.80" font-size="6.2" font-weight="normal" text-anchor="start" fill="#222" stroke="#222" stroke-width="0.2" textLength="14" lengthAdjust="spacingAndGlyphs">sham</text>
<rect x="361.00" y="21.60" width="7.60" height="3.40" fill="#719bc4"/>
<text x="372.80" y="24.80" font-size="6.2" font-weight="normal" text-anchor="start" fill="#222" stroke="#222" stroke-width="0.2" textLength="10.5" lengthAdjust="spacingAndGlyphs">TAC</text>
<text x="313.10" y="56.60" font-size="5.2" font-weight="bold" text-anchor="middle" fill="#2b2b2b" stroke="#2b2b2b" stroke-width="0.08" textLength="43.3" lengthAdjust="spacingAndGlyphs" transform="rotate(-90 313.10 56.60)">HW/BW ( mg/g )</text>
<text x="362.10" y="10.60" font-size="6.5" font-weight="bold" text-anchor="middle" fill="#1a1a1a" stroke="#1a1a1a" stroke-width="0.45" textLength="29.7" lengthAdjust="spacingAndGlyphs">C57BL/6J</text>
<text x="206.00" y="115.50" font-size="10.5" font-weight="bold" text-anchor="start" fill="#1a1a1a" stroke="#1a1a1a" stroke-width="0.3">D</text>
<line x1="229.50" y1="124.80" x2="229.50" y2="196.00" stroke="#333333" stroke-width="1"/>
<line x1="227.00" y1="124.50" x2="229.50" y2="124.50" stroke="#333333" stroke-width="1"/>
<text x="226.10" y="127.00" font-size="5.2" font-weight="bold" text-anchor="end" fill="#2b2b2b" stroke="#2b2b2b" stroke-width="0.1">15</text>
<line x1="227.00" y1="148.50" x2="229.50" y2="148.50" stroke="#333333" stroke-width="1"/>
<text x="226.10" y="150.50" font-size="5.2" font-weight="bold" text-anchor="end" fill="#2b2b2b" stroke="#2b2b2b" stroke-width="0.1">10</text>
<line x1="227.00" y1="171.50" x2="229.50" y2="171.50" stroke="#333333" stroke-width="1"/>
<text x="226.10" y="174.10" font-size="5.2" font-weight="bold" text-anchor="end" fill="#2b2b2b" stroke="#2b2b2b" stroke-width="0.1">5</text>
<line x1="227.00" y1="195.50" x2="229.50" y2="195.50" stroke="#333333" stroke-width="1"/>
<text x="226.10" y="197.60" font-size="5.2" font-weight="bold" text-anchor="end" fill="#2b2b2b" stroke="#2b2b2b" stroke-width="0.1">0</text>
<line x1="229.00" y1="195.50" x2="300.00" y2="195.50" stroke="#333333" stroke-width="1"/>
<line x1="240.50" y1="195.50" x2="240.50" y2="198.50" stroke="#333333" stroke-width="1"/>
<text x="240.50" y="204.80" font-size="5.3" font-weight="bold" text-anchor="middle" fill="#2b2b2b" stroke="#2b2b2b" stroke-width="0.1">1w</text>
<line x1="265.00" y1="195.50" x2="265.00" y2="198.50" stroke="#333333" stroke-width="1"/>
<text x="265.00" y="204.80" font-size="5.3" font-weight="bold" text-anchor="middle" fill="#2b2b2b" stroke="#2b2b2b" stroke-width="0.1">2w</text>
<line x1="289.50" y1="195.50" x2="289.50" y2="198.50" stroke="#333333" stroke-width="1"/>
<text x="289.50" y="204.80" font-size="5.3" font-weight="bold" text-anchor="middle" fill="#2b2b2b" stroke="#2b2b2b" stroke-width="0.1">4w</text>
<line x1="235.90" y1="171.00" x2="235.90" y2="172.00" stroke="#4a4a4a" stroke-width="0.7"/>
<line x1="234.40" y1="171.00" x2="237.40" y2="171.00" stroke="#4a4a4a" stroke-width="0.7"/>
<rect x="232.90" y="172.00" width="6.00" height="23.40" fill="#7b7b7b" stroke="#666" stroke-width="0.5"/>
<line x1="244.90" y1="164.50" x2="244.90" y2="166.20" stroke="#9a6a7c" stroke-width="0.7"/>
<line x1="243.40" y1="164.50" x2="246.40" y2="164.50" stroke="#9a6a7c" stroke-width="0.7"/>
<rect x="241.90" y="166.20" width="6.00" height="29.20" fill="#e59ab7" stroke="#c98aa2" stroke-width="0.5"/>
<line x1="260.80" y1="164.00" x2="260.80" y2="165.00" stroke="#4a4a4a" stroke-width="0.7"/>
<line x1="259.30" y1="164.00" x2="262.30" y2="164.00" stroke="#4a4a4a" stroke-width="0.7"/>
<rect x="257.80" y="165.00" width="6.00" height="30.40" fill="#7b7b7b" stroke="#666" stroke-width="0.5"/>
<line x1="269.70" y1="158.00" x2="269.70" y2="160.60" stroke="#9a6a7c" stroke-width="0.7"/>
<line x1="268.20" y1="158.00" x2="271.20" y2="158.00" stroke="#9a6a7c" stroke-width="0.7"/>
<rect x="266.70" y="160.60" width="6.00" height="34.80" fill="#e59ab7" stroke="#c98aa2" stroke-width="0.5"/>
<line x1="284.90" y1="152.50" x2="284.90" y2="154.80" stroke="#4a4a4a" stroke-width="0.7"/>
<line x1="283.40" y1="152.50" x2="286.40" y2="152.50" stroke="#4a4a4a" stroke-width="0.7"/>
<rect x="281.90" y="154.80" width="6.00" height="40.60" fill="#7b7b7b" stroke="#666" stroke-width="0.5"/>
<line x1="293.80" y1="134.50" x2="293.80" y2="137.00" stroke="#9a6a7c" stroke-width="0.7"/>
<line x1="292.30" y1="134.50" x2="295.30" y2="134.50" stroke="#9a6a7c" stroke-width="0.7"/>
<rect x="290.80" y="137.00" width="6.00" height="58.40" fill="#e59ab7" stroke="#c98aa2" stroke-width="0.5"/>
<text x="245.00" y="162.40" font-size="5.2" font-weight="bold" text-anchor="middle" fill="#2b2b2b">**</text>
<text x="269.80" y="156.10" font-size="5.2" font-weight="bold" text-anchor="middle" fill="#2b2b2b">*</text>
<text x="294.00" y="132.70" font-size="5.2" font-weight="bold" text-anchor="middle" fill="#2b2b2b">**</text>
<text x="216.40" y="160.30" font-size="5.2" font-weight="bold" text-anchor="middle" fill="#2b2b2b" stroke="#2b2b2b" stroke-width="0.08" textLength="45" lengthAdjust="spacingAndGlyphs" transform="rotate(-90 216.40 160.30)">HW/TL ( mg/mm )</text>
<text x="265.00" y="115.50" font-size="6.5" font-weight="bold" text-anchor="middle" fill="#1a1a1a" stroke="#1a1a1a" stroke-width="0.45" textLength="11.9" lengthAdjust="spacingAndGlyphs">ICR</text>
<line x1="326.50" y1="123.80" x2="326.50" y2="196.00" stroke="#333333" stroke-width="1"/>
<line x1="324.00" y1="123.50" x2="326.50" y2="123.50" stroke="#333333" stroke-width="1"/>
<text x="323.10" y="126.00" font-size="5.2" font-weight="bold" text-anchor="end" fill="#2b2b2b" stroke="#2b2b2b" stroke-width="0.1">15</text>
<line x1="324.00" y1="147.50" x2="326.50" y2="147.50" stroke="#333333" stroke-width="1"/>
<text x="323.10" y="149.40" font-size="5.2" font-weight="bold" text-anchor="end" fill="#2b2b2b" stroke="#2b2b2b" stroke-width="0.1">10</text>
<line x1="324.00" y1="171.50" x2="326.50" y2="171.50" stroke="#333333" stroke-width="1"/>
<text x="323.10" y="173.50" font-size="5.2" font-weight="bold" text-anchor="end" fill="#2b2b2b" stroke="#2b2b2b" stroke-width="0.1">5</text>
<line x1="324.00" y1="195.50" x2="326.50" y2="195.50" stroke="#333333" stroke-width="1"/>
<text x="323.10" y="197.60" font-size="5.2" font-weight="bold" text-anchor="end" fill="#2b2b2b" stroke="#2b2b2b" stroke-width="0.1">0</text>
<line x1="326.00" y1="195.50" x2="398.00" y2="195.50" stroke="#333333" stroke-width="1"/>
<line x1="338.30" y1="195.50" x2="338.30" y2="198.50" stroke="#333333" stroke-width="1"/>
<text x="338.30" y="204.50" font-size="5.3" font-weight="bold" text-anchor="middle" fill="#2b2b2b" stroke="#2b2b2b" stroke-width="0.1">1w</text>
<line x1="362.70" y1="195.50" x2="362.70" y2="198.50" stroke="#333333" stroke-width="1"/>
<text x="362.70" y="204.50" font-size="5.3" font-weight="bold" text-anchor="middle" fill="#2b2b2b" stroke="#2b2b2b" stroke-width="0.1">2w</text>
<line x1="387.30" y1="195.50" x2="387.30" y2="198.50" stroke="#333333" stroke-width="1"/>
<text x="387.30" y="204.50" font-size="5.3" font-weight="bold" text-anchor="middle" fill="#2b2b2b" stroke="#2b2b2b" stroke-width="0.1">4w</text>
<line x1="333.20" y1="172.00" x2="333.20" y2="172.80" stroke="#4a4a4a" stroke-width="0.7"/>
<line x1="331.70" y1="172.00" x2="334.70" y2="172.00" stroke="#4a4a4a" stroke-width="0.7"/>
<rect x="330.20" y="172.80" width="6.00" height="22.30" fill="#7b7b7b" stroke="#666" stroke-width="0.5"/>
<line x1="342.50" y1="164.30" x2="342.50" y2="166.60" stroke="#4f6f90" stroke-width="0.7"/>
<line x1="341.00" y1="164.30" x2="344.00" y2="164.30" stroke="#4f6f90" stroke-width="0.7"/>
<rect x="339.50" y="166.60" width="6.00" height="28.50" fill="#719bc4" stroke="#5f86ad" stroke-width="0.5"/>
<line x1="358.00" y1="168.00" x2="358.00" y2="168.90" stroke="#4a4a4a" stroke-width="0.7"/>
<line x1="356.50" y1="168.00" x2="359.50" y2="168.00" stroke="#4a4a4a" stroke-width="0.7"/>
<rect x="355.00" y="168.90" width="6.00" height="26.20" fill="#7b7b7b" stroke="#666" stroke-width="0.5"/>
<line x1="367.20" y1="159.30" x2="367.20" y2="160.50" stroke="#4f6f90" stroke-width="0.7"/>
<line x1="365.70" y1="159.30" x2="368.70" y2="159.30" stroke="#4f6f90" stroke-width="0.7"/>
<rect x="364.20" y="160.50" width="6.00" height="34.60" fill="#719bc4" stroke="#5f86ad" stroke-width="0.5"/>
<line x1="382.80" y1="162.50" x2="382.80" y2="163.80" stroke="#4a4a4a" stroke-width="0.7"/>
<line x1="381.30" y1="162.50" x2="384.30" y2="162.50" stroke="#4a4a4a" stroke-width="0.7"/>
<rect x="379.80" y="163.80" width="6.00" height="31.30" fill="#7b7b7b" stroke="#666" stroke-width="0.5"/>
<line x1="392.10" y1="149.90" x2="392.10" y2="153.70" stroke="#4f6f90" stroke-width="0.7"/>
<line x1="390.60" y1="149.90" x2="393.60" y2="149.90" stroke="#4f6f90" stroke-width="0.7"/>
<rect x="389.10" y="153.70" width="6.00" height="41.40" fill="#719bc4" stroke="#5f86ad" stroke-width="0.5"/>
<text x="342.60" y="163.60" font-size="5.2" font-weight="bold" text-anchor="middle" fill="#2b2b2b">**</text>
<text x="367.30" y="159.30" font-size="5.2" font-weight="bold" text-anchor="middle" fill="#2b2b2b">**</text>
<text x="392.20" y="150.30" font-size="5.2" font-weight="bold" text-anchor="middle" fill="#2b2b2b">*</text>
<text x="313.50" y="159.20" font-size="5.2" font-weight="bold" text-anchor="middle" fill="#2b2b2b" stroke="#2b2b2b" stroke-width="0.08" textLength="45.5" lengthAdjust="spacingAndGlyphs" transform="rotate(-90 313.50 159.20)">HW/TL ( mg/mm )</text>
<text x="362.85" y="114.00" font-size="6.5" font-weight="bold" text-anchor="middle" fill="#1a1a1a" stroke="#1a1a1a" stroke-width="0.45" textLength="30.8" lengthAdjust="spacingAndGlyphs">C57BL/6J</text>
<text x="2.70" y="222.90" font-size="10.5" font-weight="bold" text-anchor="start" fill="#1a1a1a" stroke="#1a1a1a" stroke-width="0.3">E</text>
<line x1="22.50" y1="234.40" x2="22.50" y2="305.00" stroke="#333333" stroke-width="1"/>
<line x1="20.00" y1="234.50" x2="22.50" y2="234.50" stroke="#333333" stroke-width="1"/>
<text x="19.10" y="236.60" font-size="5.2" font-weight="bold" text-anchor="end" fill="#2b2b2b" stroke="#2b2b2b" stroke-width="0.1">20</text>
<line x1="20.00" y1="252.50" x2="22.50" y2="252.50" stroke="#333333" stroke-width="1"/>
<text x="19.10" y="254.40" font-size="5.2" font-weight="bold" text-anchor="end" fill="#2b2b2b" stroke="#2b2b2b" stroke-width="0.1">15</text>
<line x1="20.00" y1="269.50" x2="22.50" y2="269.50" stroke="#333333" stroke-width="1"/>
<text x="19.10" y="272.00" font-size="5.2" font-weight="bold" text-anchor="end" fill="#2b2b2b" stroke="#2b2b2b" stroke-width="0.1">10</text>
<line x1="20.00" y1="287.50" x2="22.50" y2="287.50" stroke="#333333" stroke-width="1"/>
<text x="19.10" y="289.20" font-size="5.2" font-weight="bold" text-anchor="end" fill="#2b2b2b" stroke="#2b2b2b" stroke-width="0.1">5</text>
<line x1="20.00" y1="304.50" x2="22.50" y2="304.50" stroke="#333333" stroke-width="1"/>
<text x="19.10" y="306.50" font-size="5.2" font-weight="bold" text-anchor="end" fill="#2b2b2b" stroke="#2b2b2b" stroke-width="0.1">0</text>
<line x1="22.00" y1="304.50" x2="92.00" y2="304.50" stroke="#333333" stroke-width="1"/>
<line x1="32.50" y1="304.50" x2="32.50" y2="307.50" stroke="#333333" stroke-width="1"/>
<text x="32.50" y="313.70" font-size="5.3" font-weight="bold" text-anchor="middle" fill="#2b2b2b" stroke="#2b2b2b" stroke-width="0.1">1w</text>
<line x1="57.10" y1="304.50" x2="57.10" y2="307.50" stroke="#333333" stroke-width="1"/>
<text x="57.10" y="313.70" font-size="5.3" font-weight="bold" text-anchor="middle" fill="#2b2b2b" stroke="#2b2b2b" stroke-width="0.1">2w</text>
<line x1="82.50" y1="304.50" x2="82.50" y2="307.50" stroke="#333333" stroke-width="1"/>
<text x="82.50" y="313.70" font-size="5.3" font-weight="bold" text-anchor="middle" fill="#2b2b2b" stroke="#2b2b2b" stroke-width="0.1">4w</text>
<line x1="28.40" y1="280.00" x2="28.40" y2="281.20" stroke="#4a4a4a" stroke-width="0.7"/>
<line x1="26.90" y1="280.00" x2="29.90" y2="280.00" stroke="#4a4a4a" stroke-width="0.7"/>
<rect x="25.40" y="281.20" width="6.00" height="23.10" fill="#7b7b7b" stroke="#666" stroke-width="0.5"/>
<line x1="37.30" y1="277.50" x2="37.30" y2="279.00" stroke="#9a6a7c" stroke-width="0.7"/>
<line x1="35.80" y1="277.50" x2="38.80" y2="277.50" stroke="#9a6a7c" stroke-width="0.7"/>
<rect x="34.30" y="279.00" width="6.00" height="25.30" fill="#e59ab7" stroke="#c98aa2" stroke-width="0.5"/>
<line x1="52.50" y1="285.00" x2="52.50" y2="285.80" stroke="#4a4a4a" stroke-width="0.7"/>
<line x1="51.00" y1="285.00" x2="54.00" y2="285.00" stroke="#4a4a4a" stroke-width="0.7"/>
<rect x="49.50" y="285.80" width="6.00" height="18.50" fill="#7b7b7b" stroke="#666" stroke-width="0.5"/>
<line x1="61.40" y1="281.50" x2="61.40" y2="283.20" stroke="#9a6a7c" stroke-width="0.7"/>
<line x1="59.90" y1="281.50" x2="62.90" y2="281.50" stroke="#9a6a7c" stroke-width="0.7"/>
<rect x="58.40" y="283.20" width="6.00" height="21.10" fill="#e59ab7" stroke="#c98aa2" stroke-width="0.5"/>
<line x1="76.80" y1="285.20" x2="76.80" y2="286.00" stroke="#4a4a4a" stroke-width="0.7"/>
<line x1="75.30" y1="285.20" x2="78.30" y2="285.20" stroke="#4a4a4a" stroke-width="0.7"/>
<rect x="73.80" y="286.00" width="6.00" height="18.30" fill="#7b7b7b" stroke="#666" stroke-width="0.5"/>
<line x1="86.10" y1="245.80" x2="86.10" y2="254.70" stroke="#9a6a7c" stroke-width="0.7"/>
<line x1="84.60" y1="245.80" x2="87.60" y2="245.80" stroke="#9a6a7c" stroke-width="0.7"/>
<rect x="83.10" y="254.70" width="6.00" height="49.60" fill="#e59ab7" stroke="#c98aa2" stroke-width="0.5"/>
<text x="86.20" y="244.10" font-size="5.2" font-weight="bold" text-anchor="middle" fill="#2b2b2b">**</text>
<text x="9.40" y="266.90" font-size="5.2" font-weight="bold" text-anchor="middle" fill="#2b2b2b" stroke="#2b2b2b" stroke-width="0.08" textLength="43.6" lengthAdjust="spacingAndGlyphs" transform="rotate(-90 9.40 266.90)">LW/BW ( mg/g )</text>
<text x="57.20" y="225.05" font-size="6.5" font-weight="bold" text-anchor="middle" fill="#1a1a1a" stroke="#1a1a1a" stroke-width="0.45" textLength="11.5" lengthAdjust="spacingAndGlyphs">ICR</text>
<line x1="119.50" y1="233.70" x2="119.50" y2="305.00" stroke="#333333" stroke-width="1"/>
<line x1="117.00" y1="233.50" x2="119.50" y2="233.50" stroke="#333333" stroke-width="1"/>
<text x="116.10" y="235.90" font-size="5.2" font-weight="bold" text-anchor="end" fill="#2b2b2b" stroke="#2b2b2b" stroke-width="0.1">20</text>
<line x1="117.00" y1="251.50" x2="119.50" y2="251.50" stroke="#333333" stroke-width="1"/>
<text x="116.10" y="253.70" font-size="5.2" font-weight="bold" text-anchor="end" fill="#2b2b2b" stroke="#2b2b2b" stroke-width="0.1">15</text>
<line x1="117.00" y1="269.50" x2="119.50" y2="269.50" stroke="#333333" stroke-width="1"/>
<text x="116.10" y="271.50" font-size="5.2" font-weight="bold" text-anchor="end" fill="#2b2b2b" stroke="#2b2b2b" stroke-width="0.1">10</text>
<line x1="117.00" y1="287.50" x2="119.50" y2="287.50" stroke="#333333" stroke-width="1"/>
<text x="116.10" y="289.20" font-size="5.2" font-weight="bold" text-anchor="end" fill="#2b2b2b" stroke="#2b2b2b" stroke-width="0.1">5</text>
<line x1="117.00" y1="304.50" x2="119.50" y2="304.50" stroke="#333333" stroke-width="1"/>
<text x="116.10" y="306.20" font-size="5.2" font-weight="bold" text-anchor="end" fill="#2b2b2b" stroke="#2b2b2b" stroke-width="0.1">0</text>
<line x1="119.00" y1="304.50" x2="191.40" y2="304.50" stroke="#333333" stroke-width="1"/>
<line x1="131.70" y1="304.50" x2="131.70" y2="307.50" stroke="#333333" stroke-width="1"/>
<text x="131.70" y="313.40" font-size="5.3" font-weight="bold" text-anchor="middle" fill="#2b2b2b" stroke="#2b2b2b" stroke-width="0.1">1w</text>
<line x1="156.30" y1="304.50" x2="156.30" y2="307.50" stroke="#333333" stroke-width="1"/>
<text x="156.30" y="313.40" font-size="5.3" font-weight="bold" text-anchor="middle" fill="#2b2b2b" stroke="#2b2b2b" stroke-width="0.1">2w</text>
<line x1="180.70" y1="304.50" x2="180.70" y2="307.50" stroke="#333333" stroke-width="1"/>
<text x="180.70" y="313.40" font-size="5.3" font-weight="bold" text-anchor="middle" fill="#2b2b2b" stroke="#2b2b2b" stroke-width="0.1">4w</text>
<line x1="125.30" y1="282.80" x2="125.30" y2="283.75" stroke="#4a4a4a" stroke-width="0.7"/>
<line x1="123.80" y1="282.80" x2="126.80" y2="282.80" stroke="#4a4a4a" stroke-width="0.7"/>
<rect x="122.30" y="283.75" width="6.00" height="20.25" fill="#7b7b7b" stroke="#666" stroke-width="0.5"/>
<line x1="134.90" y1="280.00" x2="134.90" y2="281.25" stroke="#4f6f90" stroke-width="0.7"/>
<line x1="133.40" y1="280.00" x2="136.40" y2="280.00" stroke="#4f6f90" stroke-width="0.7"/>
<rect x="131.90" y="281.25" width="6.00" height="22.75" fill="#719bc4" stroke="#5f86ad" stroke-width="0.5"/>
<line x1="150.20" y1="283.20" x2="150.20" y2="284.00" stroke="#4a4a4a" stroke-width="0.7"/>
<line x1="148.70" y1="283.20" x2="151.70" y2="283.20" stroke="#4a4a4a" stroke-width="0.7"/>
<rect x="147.20" y="284.00" width="6.00" height="20.00" fill="#7b7b7b" stroke="#666" stroke-width="0.5"/>
<line x1="159.90" y1="281.50" x2="159.90" y2="282.50" stroke="#4f6f90" stroke-width="0.7"/>
<line x1="158.40" y1="281.50" x2="161.40" y2="281.50" stroke="#4f6f90" stroke-width="0.7"/>
<rect x="156.90" y="282.50" width="6.00" height="21.50" fill="#719bc4" stroke="#5f86ad" stroke-width="0.5"/>
<line x1="174.80" y1="285.50" x2="174.80" y2="286.30" stroke="#4a4a4a" stroke-width="0.7"/>
<line x1="173.30" y1="285.50" x2="176.30" y2="285.50" stroke="#4a4a4a" stroke-width="0.7"/>
<rect x="171.80" y="286.30" width="6.00" height="17.70" fill="#7b7b7b" stroke="#666" stroke-width="0.5"/>
<line x1="184.20" y1="272.60" x2="184.20" y2="279.40" stroke="#4f6f90" stroke-width="0.7"/>
<line x1="182.70" y1="272.60" x2="185.70" y2="272.60" stroke="#4f6f90" stroke-width="0.7"/>
<rect x="181.20" y="279.40" width="6.00" height="24.60" fill="#719bc4" stroke="#5f86ad" stroke-width="0.5"/>
<text x="134.70" y="278.70" font-size="5.2" font-weight="bold" text-anchor="middle" fill="#2b2b2b">*</text>
<text x="159.50" y="280.00" font-size="5.2" font-weight="bold" text-anchor="middle" fill="#2b2b2b">*</text>
<text x="106.50" y="268.90" font-size="5.2" font-weight="bold" text-anchor="middle" fill="#2b2b2b" stroke="#2b2b2b" stroke-width="0.08" textLength="43.4" lengthAdjust="spacingAndGlyphs" transform="rotate(-90 106.50 268.90)">LW/BW ( mg/g )</text>
<text x="155.00" y="223.85" font-size="6.5" font-weight="bold" text-anchor="middle" fill="#1a1a1a" stroke="#1a1a1a" stroke-width="0.45" textLength="30.5" lengthAdjust="spacingAndGlyphs">C57BL/6J</text>
<text x="208.40" y="222.90" font-size="10.5" font-weight="bold" text-anchor="start" fill="#1a1a1a" stroke="#1a1a1a" stroke-width="0.3">F</text>
<line x1="229.50" y1="234.40" x2="229.50" y2="305.00" stroke="#333333" stroke-width="1"/>
<line x1="227.00" y1="234.50" x2="229.50" y2="234.50" stroke="#333333" stroke-width="1"/>
<text x="226.10" y="236.80" font-size="5.2" font-weight="bold" text-anchor="end" fill="#2b2b2b" stroke="#2b2b2b" stroke-width="0.1">30</text>
<line x1="227.00" y1="258.50" x2="229.50" y2="258.50" stroke="#333333" stroke-width="1"/>
<text x="226.10" y="260.20" font-size="5.2" font-weight="bold" text-anchor="end" fill="#2b2b2b" stroke="#2b2b2b" stroke-width="0.1">20</text>
<line x1="227.00" y1="281.50" x2="229.50" y2="281.50" stroke="#333333" stroke-width="1"/>
<text x="226.10" y="283.40" font-size="5.2" font-weight="bold" text-anchor="end" fill="#2b2b2b" stroke="#2b2b2b" stroke-width="0.1">10</text>
<line x1="227.00" y1="304.50" x2="229.50" y2="304.50" stroke="#333333" stroke-width="1"/>
<text x="226.10" y="306.60" font-size="5.2" font-weight="bold" text-anchor="end" fill="#2b2b2b" stroke="#2b2b2b" stroke-width="0.1">0</text>
<line x1="229.00" y1="304.50" x2="300.00" y2="304.50" stroke="#333333" stroke-width="1"/>
<line x1="239.60" y1="304.50" x2="239.60" y2="307.50" stroke="#333333" stroke-width="1"/>
<text x="239.60" y="313.80" font-size="5.3" font-weight="bold" text-anchor="middle" fill="#2b2b2b" stroke="#2b2b2b" stroke-width="0.1">1w</text>
<line x1="264.20" y1="304.50" x2="264.20" y2="307.50" stroke="#333333" stroke-width="1"/>
<text x="264.20" y="313.80" font-size="5.3" font-weight="bold" text-anchor="middle" fill="#2b2b2b" stroke="#2b2b2b" stroke-width="0.1">2w</text>
<line x1="288.60" y1="304.50" x2="288.60" y2="307.50" stroke="#333333" stroke-width="1"/>
<text x="288.60" y="313.80" font-size="5.3" font-weight="bold" text-anchor="middle" fill="#2b2b2b" stroke="#2b2b2b" stroke-width="0.1">4w</text>
<line x1="235.00" y1="287.00" x2="235.00" y2="287.60" stroke="#4a4a4a" stroke-width="0.7"/>
<line x1="233.50" y1="287.00" x2="236.50" y2="287.00" stroke="#4a4a4a" stroke-width="0.7"/>
<rect x="232.00" y="287.60" width="6.00" height="16.80" fill="#7b7b7b" stroke="#666" stroke-width="0.5"/>
<line x1="244.20" y1="285.30" x2="244.20" y2="286.40" stroke="#9a6a7c" stroke-width="0.7"/>
<line x1="242.70" y1="285.30" x2="245.70" y2="285.30" stroke="#9a6a7c" stroke-width="0.7"/>
<rect x="241.20" y="286.40" width="6.00" height="18.00" fill="#e59ab7" stroke="#c98aa2" stroke-width="0.5"/>
<line x1="259.80" y1="286.50" x2="259.80" y2="287.40" stroke="#4a4a4a" stroke-width="0.7"/>
<line x1="258.30" y1="286.50" x2="261.30" y2="286.50" stroke="#4a4a4a" stroke-width="0.7"/>
<rect x="256.80" y="287.40" width="6.00" height="17.00" fill="#7b7b7b" stroke="#666" stroke-width="0.5"/>
<line x1="269.00" y1="283.80" x2="269.00" y2="285.00" stroke="#9a6a7c" stroke-width="0.7"/>
<line x1="267.50" y1="283.80" x2="270.50" y2="283.80" stroke="#9a6a7c" stroke-width="0.7"/>
<rect x="266.00" y="285.00" width="6.00" height="19.40" fill="#e59ab7" stroke="#c98aa2" stroke-width="0.5"/>
<line x1="284.00" y1="282.80" x2="284.00" y2="283.80" stroke="#4a4a4a" stroke-width="0.7"/>
<line x1="282.50" y1="282.80" x2="285.50" y2="282.80" stroke="#4a4a4a" stroke-width="0.7"/>
<rect x="281.00" y="283.80" width="6.00" height="20.60" fill="#7b7b7b" stroke="#666" stroke-width="0.5"/>
<line x1="293.20" y1="242.90" x2="293.20" y2="251.10" stroke="#9a6a7c" stroke-width="0.7"/>
<line x1="291.70" y1="242.90" x2="294.70" y2="242.90" stroke="#9a6a7c" stroke-width="0.7"/>
<rect x="290.20" y="251.10" width="6.00" height="53.30" fill="#e59ab7" stroke="#c98aa2" stroke-width="0.5"/>
<text x="293.50" y="241.10" font-size="5.2" font-weight="bold" text-anchor="middle" fill="#2b2b2b">**</text>
<text x="215.90" y="268.90" font-size="5.2" font-weight="bold" text-anchor="middle" fill="#2b2b2b" stroke="#2b2b2b" stroke-width="0.08" textLength="43.4" lengthAdjust="spacingAndGlyphs" transform="rotate(-90 215.90 268.90)">LW/TL ( mg/mm )</text>
<text x="264.40" y="225.05" font-size="6.5" font-weight="bold" text-anchor="middle" fill="#1a1a1a" stroke="#1a1a1a" stroke-width="0.45" textLength="10.7" lengthAdjust="spacingAndGlyphs">ICR</text>
<line x1="327.50" y1="233.70" x2="327.50" y2="306.00" stroke="#333333" stroke-width="1"/>
<line x1="325.00" y1="233.50" x2="327.50" y2="233.50" stroke="#333333" stroke-width="1"/>
<text x="324.10" y="235.90" font-size="5.2" font-weight="bold" text-anchor="end" fill="#2b2b2b" stroke="#2b2b2b" stroke-width="0.1">30</text>
<line x1="325.00" y1="257.50" x2="327.50" y2="257.50" stroke="#333333" stroke-width="1"/>
<text x="324.10" y="259.50" font-size="5.2" font-weight="bold" text-anchor="end" fill="#2b2b2b" stroke="#2b2b2b" stroke-width="0.1">20</text>
<line x1="325.00" y1="281.50" x2="327.50" y2="281.50" stroke="#333333" stroke-width="1"/>
<text x="324.10" y="283.40" font-size="5.2" font-weight="bold" text-anchor="end" fill="#2b2b2b" stroke="#2b2b2b" stroke-width="0.1">10</text>
<line x1="325.00" y1="305.50" x2="327.50" y2="305.50" stroke="#333333" stroke-width="1"/>
<text x="324.10" y="307.50" font-size="5.2" font-weight="bold" text-anchor="end" fill="#2b2b2b" stroke="#2b2b2b" stroke-width="0.1">0</text>
<line x1="327.00" y1="305.50" x2="397.00" y2="305.50" stroke="#333333" stroke-width="1"/>
<line x1="338.00" y1="305.50" x2="338.00" y2="308.50" stroke="#333333" stroke-width="1"/>
<text x="338.00" y="314.40" font-size="5.3" font-weight="bold" text-anchor="middle" fill="#2b2b2b" stroke="#2b2b2b" stroke-width="0.1">1w</text>
<line x1="362.40" y1="305.50" x2="362.40" y2="308.50" stroke="#333333" stroke-width="1"/>
<text x="362.40" y="314.40" font-size="5.3" font-weight="bold" text-anchor="middle" fill="#2b2b2b" stroke="#2b2b2b" stroke-width="0.1">2w</text>
<line x1="387.00" y1="305.50" x2="387.00" y2="308.50" stroke="#333333" stroke-width="1"/>
<text x="387.00" y="314.40" font-size="5.3" font-weight="bold" text-anchor="middle" fill="#2b2b2b" stroke="#2b2b2b" stroke-width="0.1">4w</text>
<line x1="333.00" y1="291.50" x2="333.00" y2="292.00" stroke="#4a4a4a" stroke-width="0.7"/>
<line x1="331.50" y1="291.50" x2="334.50" y2="291.50" stroke="#4a4a4a" stroke-width="0.7"/>
<rect x="330.00" y="292.00" width="6.00" height="13.00" fill="#7b7b7b" stroke="#666" stroke-width="0.5"/>
<line x1="342.30" y1="290.50" x2="342.30" y2="291.30" stroke="#4f6f90" stroke-width="0.7"/>
<line x1="340.80" y1="290.50" x2="343.80" y2="290.50" stroke="#4f6f90" stroke-width="0.7"/>
<rect x="339.30" y="291.30" width="6.00" height="13.70" fill="#719bc4" stroke="#5f86ad" stroke-width="0.5"/>
<line x1="357.60" y1="289.00" x2="357.60" y2="289.60" stroke="#4a4a4a" stroke-width="0.7"/>
<line x1="356.10" y1="289.00" x2="359.10" y2="289.00" stroke="#4a4a4a" stroke-width="0.7"/>
<rect x="354.60" y="289.60" width="6.00" height="15.40" fill="#7b7b7b" stroke="#666" stroke-width="0.5"/>
<line x1="367.00" y1="287.50" x2="367.00" y2="288.30" stroke="#4f6f90" stroke-width="0.7"/>
<line x1="365.50" y1="287.50" x2="368.50" y2="287.50" stroke="#4f6f90" stroke-width="0.7"/>
<rect x="364.00" y="288.30" width="6.00" height="16.70" fill="#719bc4" stroke="#5f86ad" stroke-width="0.5"/>
<line x1="383.00" y1="289.00" x2="383.00" y2="289.60" stroke="#4a4a4a" stroke-width="0.7"/>
<line x1="381.50" y1="289.00" x2="384.50" y2="289.00" stroke="#4a4a4a" stroke-width="0.7"/>
<rect x="380.00" y="289.60" width="6.00" height="15.40" fill="#7b7b7b" stroke="#666" stroke-width="0.5"/>
<line x1="392.10" y1="282.00" x2="392.10" y2="287.00" stroke="#4f6f90" stroke-width="0.7"/>
<line x1="390.60" y1="282.00" x2="393.60" y2="282.00" stroke="#4f6f90" stroke-width="0.7"/>
<rect x="389.10" y="287.00" width="6.00" height="18.00" fill="#719bc4" stroke="#5f86ad" stroke-width="0.5"/>
<text x="312.90" y="269.60" font-size="5.2" font-weight="bold" text-anchor="middle" fill="#2b2b2b" stroke="#2b2b2b" stroke-width="0.08" textLength="45" lengthAdjust="spacingAndGlyphs" transform="rotate(-90 312.90 269.60)">LW/TL ( mg/mm )</text>
<text x="363.10" y="223.75" font-size="6.5" font-weight="bold" text-anchor="middle" fill="#1a1a1a" stroke="#1a1a1a" stroke-width="0.45" textLength="31.3" lengthAdjust="spacingAndGlyphs">C57BL/6J</text>
</svg></body></html>
